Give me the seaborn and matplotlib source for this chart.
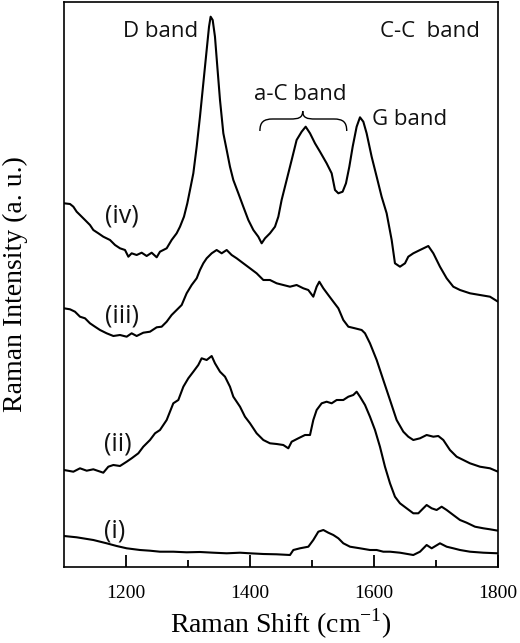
import numpy as np
import pandas as pd
import matplotlib
matplotlib.use("Agg")
import matplotlib.pyplot as plt
from matplotlib.path import Path
from matplotlib.patches import PathPatch
from matplotlib.ticker import FixedLocator
import seaborn as sns

# ---------------- data ----------------
shift_iv = [1100, 1109.7, 1115.1, 1120.4, 1125.8, 1133.9, 1141.9, 1147.3, 1155.4, 1163.4,
            1174.2, 1182.3, 1190.3, 1198.4, 1203.8, 1209.1, 1217.2, 1225.3, 1233.3, 1241.4,
            1249.5, 1254.8, 1265.6, 1273.6, 1281.7, 1287.1, 1293.5, 1298.9, 1304.3, 1308.6,
            1314.0, 1319.3, 1324.7, 1330.1, 1333.9, 1336.5, 1339.8, 1343.5, 1347.3, 1351.6,
            1357.0, 1362.4, 1367.7, 1373.1, 1381.2, 1389.2, 1397.3, 1405.4, 1413.4, 1418.8,
            1424.2, 1432.2, 1440.3, 1445.7, 1451.0, 1459.1, 1467.2, 1475.2, 1483.3, 1489.8,
            1496.8, 1504.8, 1512.9, 1523.6, 1531.7, 1537.1, 1542.5, 1549.4, 1554.8, 1560.2,
            1565.6, 1572.0, 1577.4, 1582.8, 1588.1, 1596.2, 1604.3, 1612.3, 1620.4, 1628.5,
            1633.8, 1641.9, 1650.0, 1655.3, 1663.4, 1674.2, 1687.6, 1695.7, 1706.4, 1717.2,
            1727.9, 1738.7, 1754.8, 1770.9, 1787.1, 1800]
int_iv = [363.7, 363.0, 360.3, 355.3, 352.0, 347.0, 342.0, 337.0, 333.7, 330.3,
          327.0, 322.0, 318.7, 317.0, 310.3, 313.7, 312.0, 314.3, 311.0, 314.3,
          309.7, 315.3, 318.7, 327.0, 333.7, 340.3, 350.3, 363.7, 380.3, 393.7,
          420.3, 450.3, 483.7, 517.0, 540.3, 550.3, 547.0, 530.3, 500.3, 467.0,
          433.7, 417.0, 400.3, 387.0, 373.7, 360.3, 347.0, 337.0, 330.3, 323.7,
          328.7, 333.7, 340.3, 350.3, 367.0, 387.0, 407.0, 427.0, 435.3, 440.3,
          433.7, 423.7, 415.3, 403.7, 393.7, 377.0, 373.7, 375.3, 383.7, 400.3,
          420.3, 440.3, 449.7, 445.3, 433.7, 410.3, 390.3, 370.3, 353.7, 327.0,
          303.7, 300.3, 303.7, 310.3, 313.7, 317.0, 321.0, 313.7, 300.3, 288.7,
          280.3, 277.0, 273.7, 272.0, 270.3, 265.3]

shift_iii = [1100, 1109.7, 1117.7, 1125.8, 1133.9, 1141.9, 1150.0, 1158.1, 1168.8, 1179.6,
             1190.3, 1201.1, 1209.1, 1217.2, 1227.9, 1238.7, 1249.5, 1257.5, 1265.6, 1273.6,
             1281.7, 1289.8, 1297.8, 1305.9, 1314.0, 1319.3, 1324.7, 1330.1, 1338.2, 1346.2,
             1354.3, 1362.4, 1370.4, 1378.5, 1389.2, 1400.0, 1410.7, 1421.5, 1432.2, 1443.0,
             1453.7, 1464.5, 1475.2, 1486.0, 1494.0, 1502.1, 1507.5, 1511.8, 1518.3, 1526.3,
             1534.4, 1542.5, 1550.5, 1558.6, 1569.3, 1580.1, 1585.5, 1593.5, 1604.3, 1615.0,
             1625.8, 1636.5, 1647.3, 1655.3, 1663.4, 1674.2, 1684.9, 1695.7, 1703.7, 1711.8,
             1722.5, 1733.3, 1744.1, 1754.8, 1770.9, 1787.1, 1800]
int_iii = [258.7, 257.7, 255.3, 250.3, 248.7, 243.7, 240.3, 237.0, 233.7, 231.0,
           232.0, 230.3, 233.7, 231.0, 234.3, 235.3, 239.7, 240.3, 245.3, 252.0,
           257.0, 262.0, 273.7, 282.0, 288.7, 297.0, 303.7, 308.7, 313.7, 317.0,
           313.7, 317.0, 312.0, 308.7, 303.7, 298.7, 293.7, 287.0, 287.0, 283.7,
           282.0, 280.3, 282.0, 278.7, 277.0, 270.3, 280.3, 285.3, 278.7, 272.0,
           265.3, 258.7, 247.0, 240.3, 238.7, 237.0, 233.7, 223.7, 207.0, 187.0,
           167.0, 147.0, 135.3, 130.3, 127.0, 128.7, 132.0, 130.3, 131.0, 127.0,
           117.0, 110.3, 107.0, 103.7, 100.3, 98.7, 95.3]

shift_ii = [1100, 1115.1, 1125.8, 1136.6, 1147.3, 1163.4, 1171.5, 1179.6, 1190.3, 1201.1,
            1209.1, 1219.9, 1227.9, 1238.7, 1246.8, 1254.8, 1265.6, 1276.3, 1284.4, 1292.5,
            1300.5, 1308.6, 1316.6, 1322.0, 1330.1, 1338.2, 1343.5, 1351.6, 1359.7, 1367.7,
            1373.1, 1383.9, 1391.9, 1400.0, 1410.7, 1421.5, 1432.2, 1443.0, 1453.7, 1461.8,
            1467.2, 1477.9, 1488.7, 1496.8, 1502.1, 1507.5, 1515.6, 1523.6, 1531.7, 1539.8,
            1550.5, 1558.6, 1566.6, 1572.0, 1577.4, 1585.5, 1593.5, 1601.6, 1609.6, 1617.7,
            1625.8, 1633.8, 1641.9, 1652.6, 1663.4, 1671.5, 1679.5, 1684.9, 1693.0, 1701.0,
            1709.1, 1717.2, 1727.9, 1738.7, 1749.4, 1762.9, 1776.4, 1787.1, 1800]
int_ii = [97.0, 95.3, 98.7, 96.3, 97.7, 94.3, 100.3, 102.0, 101.0, 105.3,
          108.7, 113.7, 120.3, 127.0, 133.7, 137.0, 147.0, 163.7, 167.0, 180.3,
          188.7, 195.3, 202.0, 208.7, 207.0, 211.0, 203.7, 195.3, 190.3, 180.3,
          170.3, 160.3, 150.3, 143.7, 133.7, 127.0, 123.7, 123.0, 122.0, 118.7,
          125.3, 128.7, 132.0, 132.0, 147.0, 157.0, 163.7, 165.3, 163.7, 167.0,
          167.0, 170.3, 172.0, 175.3, 170.3, 162.0, 150.3, 137.0, 120.3, 100.3,
          83.7, 70.3, 63.7, 58.7, 53.7, 53.7, 58.7, 62.0, 58.7, 57.0,
          60.3, 57.0, 52.0, 47.0, 44.3, 40.3, 38.7, 37.7, 36.3]

shift_i = [1100, 1120.4, 1147.3, 1168.8, 1184.9, 1201.1, 1222.6, 1238.7, 1254.8, 1276.3,
           1297.8, 1319.3, 1340.9, 1362.4, 1383.9, 1400.0, 1421.5, 1443.0, 1464.5, 1469.9,
           1480.6, 1494.1, 1502.1, 1510.2, 1518.3, 1526.3, 1534.4, 1542.5, 1550.5, 1561.3,
           1577.4, 1593.5, 1604.3, 1615.0, 1625.8, 1641.9, 1663.4, 1674.2, 1684.9, 1693.0,
           1706.4, 1717.2, 1727.9, 1738.7, 1754.8, 1776.4, 1800]
int_i = [31.0, 29.7, 27.0, 23.7, 21.0, 18.7, 17.0, 16.3, 15.3, 15.3,
         14.7, 15.0, 14.3, 13.7, 14.3, 13.7, 13.0, 12.7, 12.0, 17.0,
         18.7, 20.3, 27.0, 35.3, 37.0, 34.3, 32.0, 28.7, 23.7, 20.3,
         18.7, 17.0, 17.0, 15.3, 15.3, 14.3, 12.0, 15.3, 22.0, 18.7,
         23.7, 20.3, 18.7, 17.0, 15.3, 14.3, 13.7]

series_names = ["(i)", "(ii)", "(iii)", "(iv)"]
x_ticks = [1200, 1400, 1600, 1800]
x_minor_ticks = [1300, 1500, 1700]

# ---------------- style ----------------
sns.set_style("ticks")
plt.rcParams["font.family"] = ["Liberation Serif", "DejaVu Serif"]
plt.rcParams["mathtext.fontset"] = "custom"
plt.rcParams["mathtext.rm"] = "Liberation Serif"

frames = []
for name, xs, ys in zip(series_names,
                        [shift_i, shift_ii, shift_iii, shift_iv],
                        [int_i, int_ii, int_iii, int_iv]):
    frames.append(pd.DataFrame({"shift": xs, "intensity": ys, "sample": name}))
df = pd.concat(frames, ignore_index=True)

fig = plt.figure(figsize=(5.20, 6.43), dpi=100)
ax = fig.add_axes([64 / 520, 1 - 567 / 643, 434 / 520, 565 / 643])

sns.lineplot(data=df, x="shift", y="intensity", hue="sample", units="sample",
             estimator=None, sort=False, palette=["black"] * 4, legend=False,
             linewidth=1.5, ax=ax)

ax.set_xlim(1100, 1800)
ax.set_ylim(0, 565)
ax.xaxis.set_major_locator(FixedLocator(x_ticks))
ax.xaxis.set_minor_locator(FixedLocator(x_minor_ticks))
ax.yaxis.set_major_locator(FixedLocator([]))
ax.tick_params(axis="x", which="major", direction="in", length=9, width=1.3,
               color="black", bottom=True, top=False, labelsize=14, pad=13,
               labelcolor="black")
ax.tick_params(axis="x", which="minor", direction="in", length=5, width=1.3,
               color="black", bottom=True, top=False)

for s in ax.spines.values():
    s.set_visible(True)
    s.set_linewidth(1.2)
    s.set_color("black")

ax.set_xlabel("Raman Shift (cm$^{\\mathregular{-1}}$)", fontsize=20, labelpad=3,
              color="black")
ax.set_ylabel("Raman Intensity (a. u.)", fontsize=20, labelpad=26, color="black")

sans = ["Open Sans", "DejaVu Sans"]
ann = dict(fontsize=16, family=sans, ha="center", va="baseline", color="#111111")
ax.text(1255, 530, "D band", **ann)
ax.text(1690, 530, "C-C  band", **ann)
ax.text(1481, 467, "a-C band", **ann)
ax.text(1658, 442, "G band", **ann)

lab = dict(fontsize=18, family=sans, ha="center", va="center", color="#111111")
ax.text(1193, 351, "(iv)", **lab)
ax.text(1193, 251, "(iii)", **lab)
ax.text(1187, 123, "(ii)", **lab)
ax.text(1181, 36, "(i)", **lab)

# curly brace over the a-C band
verts = [(1416, 436), (1416, 445), (1422, 448), (1437, 448),
         (1465, 448),
         (1478, 448), (1485, 449), (1485, 456),
         (1485, 449), (1492, 448), (1505, 448),
         (1535, 448),
         (1550, 448), (1556, 445), (1556, 436)]
codes = [Path.MOVETO, Path.CURVE4, Path.CURVE4, Path.CURVE4,
         Path.LINETO,
         Path.CURVE4, Path.CURVE4, Path.CURVE4,
         Path.CURVE4, Path.CURVE4, Path.CURVE4,
         Path.LINETO,
         Path.CURVE4, Path.CURVE4, Path.CURVE4]
ax.add_patch(PathPatch(Path(verts, codes), fill=False, lw=1.0, color="black"))

fig.savefig("out.png", dpi=100)
